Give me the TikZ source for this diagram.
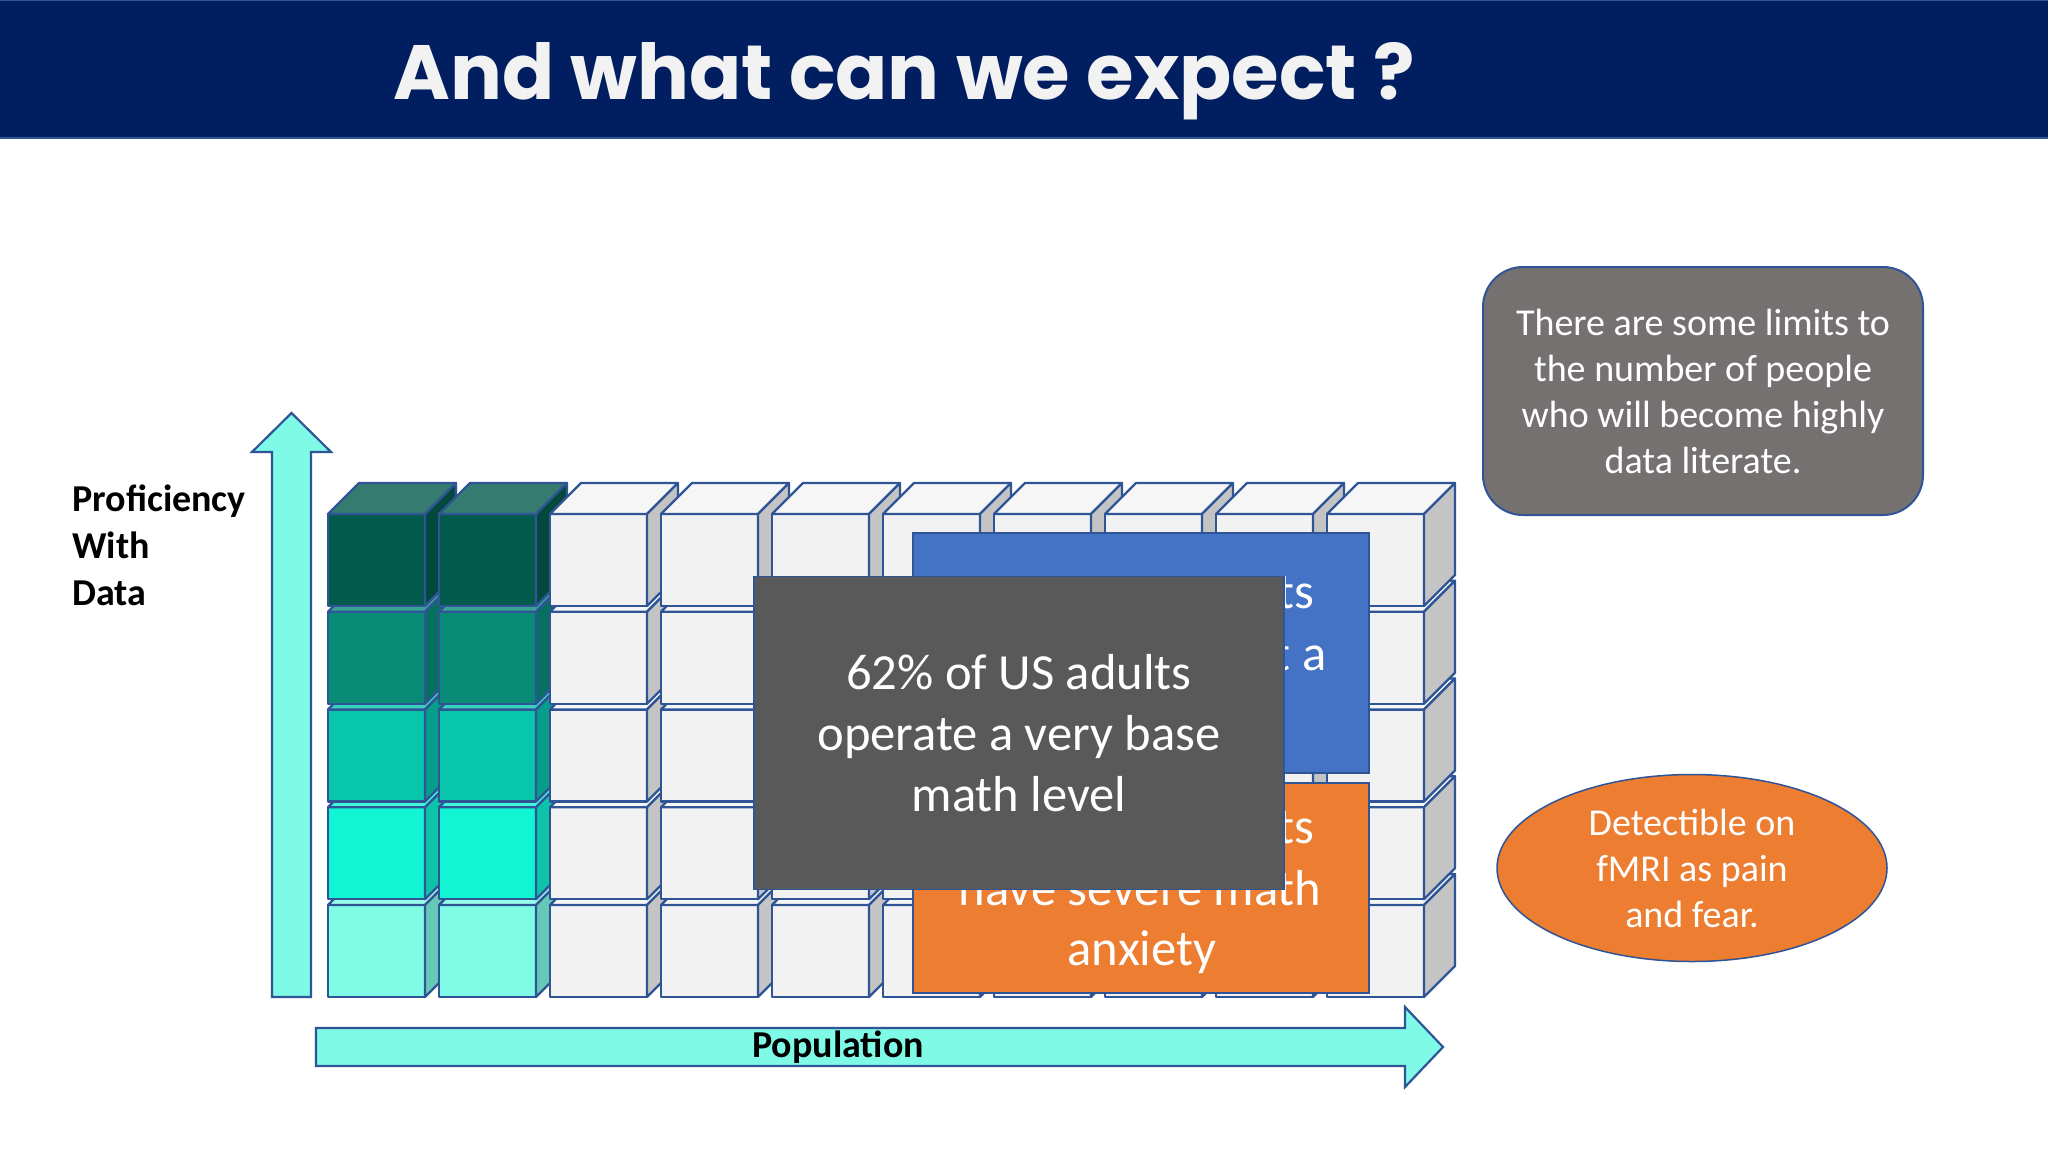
\documentclass[tikz,border=0pt]{standalone}
\usepackage{fontspec}
\setmainfont{Carlito}
\newfontfamily\titlefont{Poppins}
\usetikzlibrary{positioning, shapes.geometric}

\definecolor{banner}{RGB}{0,30,96}
\definecolor{cubeline}{RGB}{47,85,151}
\definecolor{axisfill}{RGB}{127,250,231}
\definecolor{blankfront}{RGB}{242,242,242}
\definecolor{blankside}{RGB}{196,196,196}
\definecolor{blanktop}{RGB}{246,246,246}
\definecolor{front0}{RGB}{2,90,76}
\definecolor{side0}{RGB}{2,72,61}
\definecolor{top0}{RGB}{53,123,111}
\definecolor{front1}{RGB}{8,140,120}
\definecolor{side1}{RGB}{6,112,96}
\definecolor{top1}{RGB}{57,163,147}
\definecolor{front2}{RGB}{8,198,172}
\definecolor{side2}{RGB}{6,158,138}
\definecolor{top2}{RGB}{57,209,189}
\definecolor{front3}{RGB}{17,245,210}
\definecolor{side3}{RGB}{14,196,168}
\definecolor{top3}{RGB}{65,247,219}
\definecolor{front4}{RGB}{127,251,230}
\definecolor{side4}{RGB}{102,201,184}
\definecolor{top4}{RGB}{153,252,235}
\definecolor{darkbox}{RGB}{89,89,89}
\definecolor{notebox}{RGB}{118,113,113}
\definecolor{bluebox}{RGB}{68,114,196}
\definecolor{orangebox}{RGB}{237,125,49}
\definecolor{titletext}{RGB}{242,242,242}

% one cube: front top-left corner, then front, side and top colours
\newcommand{\datacube}[5]{%
  \filldraw[cubeedge, fill=#3] (#1,#2) rectangle ++(97,92);
  \filldraw[cubeedge, fill=#5] (#1,#2) -- ++(31,-31) -- ++(97,0) -- ++(-31,31) -- cycle;
  \filldraw[cubeedge, fill=#4] (#1+97,#2) -- ++(31,-31) -- ++(0,92) -- ++(-31,31) -- cycle;
}

\tikzset{
  cubeedge/.style={draw=cubeline, line width=1.1pt, line join=round},
  axisarrow/.style={draw=cubeline, line width=1.1pt, fill=axisfill},
  axislabel/.style={font=\bfseries\fontsize{19pt}{23.5pt}\selectfont, inner sep=0pt},
  boxtext/.style={text=white, font=\fontsize{25.3pt}{30.5pt}\selectfont, inner sep=0pt},
  notetext/.style={text=white, font=\fontsize{19pt}{23pt}\selectfont, align=center}
}

\begin{document}
\begin{tikzpicture}[x=0.5pt, y=-0.5pt]
    \useasboundingbox (0,0) rectangle (2048,1152);
    \fill[white] (0,0) rectangle (2048,1152);

    % title banner
    \filldraw[fill=banner, draw=cubeline, line width=0.75pt] (-2,0) rectangle (2050,138);
    \node[anchor=base, text=titletext, inner sep=0pt,
      font=\titlefont\bfseries\fontsize{38.5pt}{40pt}\selectfont] (title) at (904,99)
      {And what can we expect ?};

    % cube wall
    \foreach \row in {4,3,...,0} {
      \foreach \col in {0,...,9} {
        \pgfmathsetmacro{\cx}{328+111*\col}
        \pgfmathsetmacro{\cy}{514+97.75*\row}
        \ifnum\col<2
          \datacube{\cx}{\cy}{front\row}{side\row}{top\row}
        \else
          \datacube{\cx}{\cy}{blankfront}{blankside}{blanktop}
        \fi
      }
    }

    % axes
    \draw[axisarrow] (272,997) -- (272,452) -- (252,452) -- (291.5,413) -- (331,452)
      -- (311,452) -- (311,997) -- cycle;
    \draw[axisarrow] (316,1028) -- (1405,1028) -- (1405,1007) -- (1443,1047)
      -- (1405,1087) -- (1405,1066) -- (316,1066) -- cycle;
    \node[axislabel] (population) at (838,1047) {Population};
    \node[axislabel, anchor=west, align=left] (proficiency) at (72,545)
      {Proficiency\\With\\Data};

    % boxes over the wall
    \node[draw=cubeline, line width=0.75pt, fill=bluebox, minimum width=228pt,
      minimum height=120pt] (blue) at (1141,653) {};
    \node[boxtext, anchor=base east] (bluets) at (1315,608) {ts};
    \node[boxtext, anchor=base east] (blueta) at (1327,670) {t a};
    \node[draw=cubeline, line width=0.75pt, fill=orangebox, minimum width=228pt,
      minimum height=105pt] (orange) at (1141,888) {};
    \node[boxtext, anchor=base east] (orangets) at (1315,843) {ts};
    \node[boxtext, anchor=base] (severe) at (1140,905) {have severe math};
    \node[boxtext, anchor=base] (anxiety) at (1142,965) {anxiety};
    \node[draw=cubeline, line width=0.75pt, fill=darkbox, minimum width=265pt,
      minimum height=156.5pt, boxtext, align=center] (adults) at (1019,733)
      {62\% of US adults\\operate a very base\\math level};

    % side notes
    \node[draw=cubeline, line width=1pt, fill=notebox, rounded corners=20pt,
      minimum width=220pt, minimum height=124pt, notetext] (limits) at (1703,391)
      {There are some limits to\\the number of people\\who will become highly\\data literate.};
    \node[ellipse, draw=cubeline, line width=0.75pt, fill=orangebox, inner sep=0pt,
      minimum width=195pt, minimum height=93.5pt, notetext] (fmri) at (1692,868)
      {Detectible on\\fMRI as pain\\and fear.};
  \end{tikzpicture}
\end{document}
